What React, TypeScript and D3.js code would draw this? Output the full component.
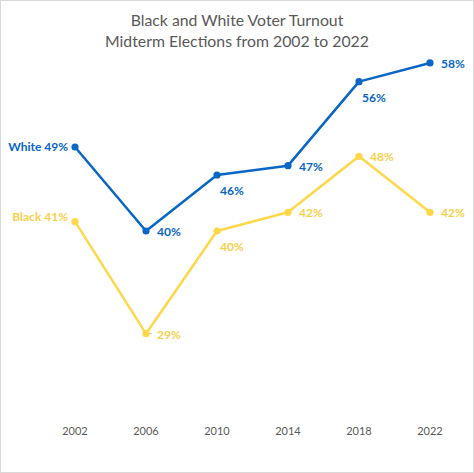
import React from 'react';
import * as d3 from 'd3';

const years = ['2002', '2006', '2010', '2014', '2018', '2022'];
const white = [49, 40, 46, 47, 56, 58];
const black = [41, 29, 40, 42, 48, 42];
// where each data label sits relative to its point
const whitePos = ['left', 'right', 'below', 'right', 'below', 'right'];
const blackPos = ['left', 'right', 'below', 'right', 'right', 'right'];

const W = 474;
const H = 473;
const BLUE = '#0866C6';
const GOLD = '#FFD84A';
const GOLD_TEXT = '#F8D04A';
const GREY = '#595959';
const FONT = 'Lato, "Open Sans", sans-serif';

const App = () => {
  const x = d3.scalePoint<string>().domain(years).range([75, 430]);
  const y = d3.scaleLinear().domain([20, 60]).range([417.7, 44.3]);

  const line = d3.line<number>()
    .x((_, i) => x(years[i]) as number)
    .y(d => y(d));

  const series = [
    { name: 'White', values: white, pos: whitePos, color: BLUE, text: BLUE },
    { name: 'Black', values: black, pos: blackPos, color: GOLD, text: GOLD_TEXT },
  ];

  const label = (s: any, v: number, i: number) => {
    const px = x(years[i]) as number;
    const py = y(v);
    const p = s.pos[i];
    const t = i === 0 ? `${s.name} ${v}%` : `${v}%`;
    if (p === 'left') {
      return <text key={i} x={px - 7} y={py + (s.name === 'Black' ? -1 : 4)} textAnchor="end" fill={s.text}>{t}</text>;
    }
    if (p === 'below') {
      return <text key={i} x={px + 3} y={py + 20} fill={s.text}>{t}</text>;
    }
    return <text key={i} x={px + 11} y={py + 5} fill={s.text}>{t}</text>;
  };

  return (
    <svg width={W} height={H} style={{ position: 'absolute', left: 0, top: 0 }} fontFamily={FONT}>
      <rect x={0.5} y={0.5} width={W - 1} height={H - 1} fill="#fff" stroke="#d9d9d9" />
      <g fill={GREY} fontSize={15.8} textAnchor="middle">
        <text x={W / 2} y={26}>Black and White Voter Turnout</text>
        <text x={W / 2} y={47}>Midterm Elections from 2002 to 2022</text>
      </g>
      <line x1={146} x2={152} y1={y(29)} y2={y(29)} stroke="#bfbfbf" />
      {series.map(s => (
        <g key={s.name}>
          <path d={line(s.values) as string} fill="none" stroke={s.color} strokeWidth={2.5} strokeLinejoin="round" />
          {s.values.map((v, i) => (
            <circle key={i} cx={x(years[i]) as number} cy={y(v)} r={3.6} fill={s.color} />
          ))}
          <g fontSize={12} fontWeight="bold">
            {s.values.map((v, i) => label(s, v, i))}
          </g>
        </g>
      ))}
      <g fill={GREY} fontSize={11} textAnchor="middle">
        {years.map(yr => (
          <text key={yr} x={x(yr) as number} y={435}>{yr}</text>
        ))}
      </g>
    </svg>
  );
};

export default App;
